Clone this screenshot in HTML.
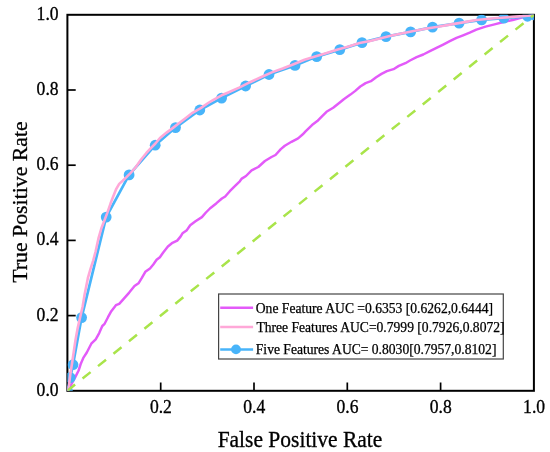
<!DOCTYPE html>
<html><head><meta charset="utf-8"><title>ROC</title>
<style>html,body{margin:0;padding:0;background:#fff;overflow:hidden}svg{display:block}</style>
</head><body>
<svg width="550" height="452" viewBox="0 0 550 452">
<defs><clipPath id="ax"><rect x="67.4" y="14.8" width="466.5" height="376.0"/></clipPath></defs>
<rect width="550" height="452" fill="#fff"/>
<rect x="67.4" y="14.8" width="466.5" height="376.0" fill="none" stroke="#000" stroke-width="2"/>
<g stroke="#000" stroke-width="1.7"><line x1="67.4" y1="315.6" x2="75.7" y2="315.6"/><line x1="160.7" y1="390.8" x2="160.7" y2="382.5"/><line x1="67.4" y1="240.4" x2="75.7" y2="240.4"/><line x1="254.0" y1="390.8" x2="254.0" y2="382.5"/><line x1="67.4" y1="165.2" x2="75.7" y2="165.2"/><line x1="347.3" y1="390.8" x2="347.3" y2="382.5"/><line x1="67.4" y1="90.0" x2="75.7" y2="90.0"/><line x1="440.6" y1="390.8" x2="440.6" y2="382.5"/></g>
<g clip-path="url(#ax)" fill="none" stroke-linejoin="round" stroke-linecap="round">
<path d="M67.4,390.8 L68.7,389.0 L72.0,383.1 L75.3,377.1 L78.6,370.5 L80.7,364.0 L83.3,357.9 L86.8,352.5 L88.6,349.0 L91.3,343.7 L95.7,339.3 L99.2,333.1 L102.3,326.0 L104.6,323.8 L108.0,317.2 L111.3,311.2 L115.9,305.2 L119.2,303.9 L123.9,298.6 L129.2,292.6 L134.5,286.0 L138.5,283.3 L142.0,277.7 L145.3,271.8 L150.0,268.5 L153.3,264.5 L156.6,259.8 L159.9,257.2 L163.2,252.5 L167.9,246.5 L171.9,243.2 L177.2,240.6 L180.5,236.6 L182.5,233.3 L186.5,230.6 L190.2,225.2 L195.5,221.2 L201.9,217.1 L205.9,212.5 L209.9,208.5 L216.5,203.2 L221.9,198.5 L225.2,196.5 L229.8,191.2 L235.1,185.9 L239.8,181.3 L241.8,178.6 L246.0,176.0 L251.6,170.3 L258.3,167.0 L264.9,161.0 L271.5,157.0 L275.5,155.0 L280.8,149.1 L284.8,145.7 L291.5,141.8 L298.1,138.4 L303.4,133.8 L305.3,131.6 L312.0,125.1 L317.3,121.1 L321.2,117.1 L326.5,111.8 L333.2,107.8 L339.8,102.5 L343.8,99.2 L350.4,94.6 L355.0,91.1 L360.3,86.5 L365.6,83.1 L370.9,81.2 L376.2,77.2 L381.5,73.9 L386.9,71.2 L393.5,69.2 L398.8,65.9 L405.4,63.2 L410.0,60.5 L416.6,57.2 L423.3,54.5 L429.9,51.2 L436.5,47.9 L443.2,44.6 L449.8,41.2 L456.5,37.9 L463.1,35.3 L469.7,32.6 L476.4,29.6 L485.5,26.6 L494.5,24.4 L503.6,22.0 L512.7,20.0 L521.8,17.6 L530.9,15.8 L533.9,14.8" stroke="#e35af9" stroke-width="2.45"/>
<path d="M67.4,390.8 L70.2,377.6 L73.0,364.7 L81.6,317.6 L106.2,217.1 L129.1,174.9 L155.2,145.2 L175.5,127.6 L199.8,110.0 L221.6,98.1 L245.6,86.0 L269.0,74.5 L295.0,65.4 L316.7,56.6 L339.8,49.6 L362.0,42.6 L386.0,36.6 L410.6,31.9 L432.5,27.1 L459.1,23.1 L481.6,19.9 L503.8,18.2 L527.5,16.3 L533.9,14.8" stroke="#48b4fa" stroke-width="2.7"/>
<g fill="#48b4fa" stroke="none"><circle cx="67.4" cy="390.8" r="5.4"/><circle cx="70.2" cy="377.6" r="5.4"/><circle cx="73.0" cy="364.7" r="5.4"/><circle cx="81.6" cy="317.6" r="5.4"/><circle cx="106.2" cy="217.1" r="5.4"/><circle cx="129.1" cy="174.9" r="5.4"/><circle cx="155.2" cy="145.2" r="5.4"/><circle cx="175.5" cy="127.6" r="5.4"/><circle cx="199.8" cy="110.0" r="5.4"/><circle cx="221.6" cy="98.1" r="5.4"/><circle cx="245.6" cy="86.0" r="5.4"/><circle cx="269.0" cy="74.5" r="5.4"/><circle cx="295.0" cy="65.4" r="5.4"/><circle cx="316.7" cy="56.6" r="5.4"/><circle cx="339.8" cy="49.6" r="5.4"/><circle cx="362.0" cy="42.6" r="5.4"/><circle cx="386.0" cy="36.6" r="5.4"/><circle cx="410.6" cy="31.9" r="5.4"/><circle cx="432.5" cy="27.1" r="5.4"/><circle cx="459.1" cy="23.1" r="5.4"/><circle cx="481.6" cy="19.9" r="5.4"/><circle cx="503.8" cy="18.2" r="5.4"/><circle cx="527.5" cy="16.3" r="5.4"/><circle cx="533.9" cy="14.8" r="5.4"/></g>
<path d="M67.4,390.8 L68.8,386.0 L70.3,374.5 L72.1,363.0 L73.8,351.5 L75.5,340.0 L77.7,328.1 L80.1,317.4 L82.6,306.7 L84.6,294.5 L87.9,277.9 L90.6,268.6 L93.2,260.6 L95.6,251.5 L98.6,237.8 L101.3,228.5 L104.4,220.5 L107.4,212.6 L110.6,203.3 L112.8,197.5 L114.4,193.5 L116.3,188.8 L119.2,183.9 L122.7,180.8 L126.2,177.4 L130.7,172.8 L135.5,167.5 L141.1,159.5 L146.2,153.2 L151.3,147.7 L155.4,143.5 L160.0,138.0 L166.6,132.6 L173.3,127.6 L179.9,122.5 L186.5,117.5 L192.5,112.8 L200.7,108.1 L208.9,102.5 L213.0,100.1 L221.6,95.3 L228.2,92.5 L239.1,87.6 L250.0,82.2 L260.9,77.3 L271.8,72.4 L282.7,68.5 L293.6,64.2 L304.5,59.8 L315.9,56.2 L326.8,52.9 L337.7,49.4 L348.6,46.4 L359.5,43.1 L370.0,40.9 L380.9,38.2 L391.8,35.5 L402.7,33.3 L413.6,31.1 L424.5,28.9 L436.5,27.0 L449.8,24.6 L463.1,22.4 L476.4,20.0 L494.5,18.2 L512.7,16.9 L530.9,15.5 L533.9,14.8" stroke="#ffa8d8" stroke-width="2.6"/>
<line x1="67.4" y1="390.8" x2="533.9" y2="14.8" stroke="#a9e44a" stroke-width="2.5" stroke-dasharray="10.3 9.56" stroke-dashoffset="0.4" stroke-linecap="butt"/>
</g>
<g font-family="'Liberation Serif', 'Times New Roman', serif" font-size="17.6" fill="#000" stroke="#000" stroke-width="0.3">
<text transform="translate(58.6,395.70) scale(1,1.03)" text-anchor="end">0.0</text><text transform="translate(58.6,320.50) scale(1,1.03)" text-anchor="end">0.2</text><text transform="translate(58.6,245.30) scale(1,1.03)" text-anchor="end">0.4</text><text transform="translate(58.6,170.10) scale(1,1.03)" text-anchor="end">0.6</text><text transform="translate(58.6,94.90) scale(1,1.03)" text-anchor="end">0.8</text><text transform="translate(58.6,19.70) scale(1,1.03)" text-anchor="end">1.0</text><text transform="translate(160.90,412.8) scale(1,1.03)" text-anchor="middle">0.2</text><text transform="translate(254.20,412.8) scale(1,1.03)" text-anchor="middle">0.4</text><text transform="translate(347.50,412.8) scale(1,1.03)" text-anchor="middle">0.6</text><text transform="translate(440.80,412.8) scale(1,1.03)" text-anchor="middle">0.8</text><text transform="translate(534.10,412.8) scale(1,1.03)" text-anchor="middle">1.0</text>
</g>
<g font-family="'Liberation Serif', 'Times New Roman', serif" fill="#000" stroke="#000" stroke-width="0.3">
<text transform="translate(300.0,446.6) scale(1,1.05)" font-size="21.5" text-anchor="middle">False Positive Rate</text>
<text transform="translate(27.2,202.0) rotate(-90)" font-size="21.8" text-anchor="middle">True Positive Rate</text>
</g>
<rect x="218.6" y="294.0" width="284.7" height="65.0" fill="#fff" stroke="#444" stroke-width="1.2"/>
<g stroke-width="2.6" fill="none">
<line x1="220.2" y1="307.7" x2="253.1" y2="307.7" stroke="#e35af9"/>
<line x1="220.2" y1="327.0" x2="253.1" y2="327.0" stroke="#ffa8d8"/>
<line x1="220.2" y1="349.5" x2="253.1" y2="349.5" stroke="#48b4fa"/>
</g>
<circle cx="236.0" cy="349.4" r="4.9" fill="#48b4fa"/>
<g font-family="'Liberation Serif', 'Times New Roman', serif" font-size="13.6" fill="#000" stroke="#000" stroke-width="0.25">
<text x="255.8" y="312.8">One Feature AUC =0.6353 [0.6262,0.6444]</text>
<text x="256.4" y="331.8">Three Features AUC=0.7999 [0.7926,0.8072]</text>
<text x="255.8" y="354.1">Five Features AUC= 0.8030[0.7957,0.8102]</text>
</g>
</svg>
</body></html>
